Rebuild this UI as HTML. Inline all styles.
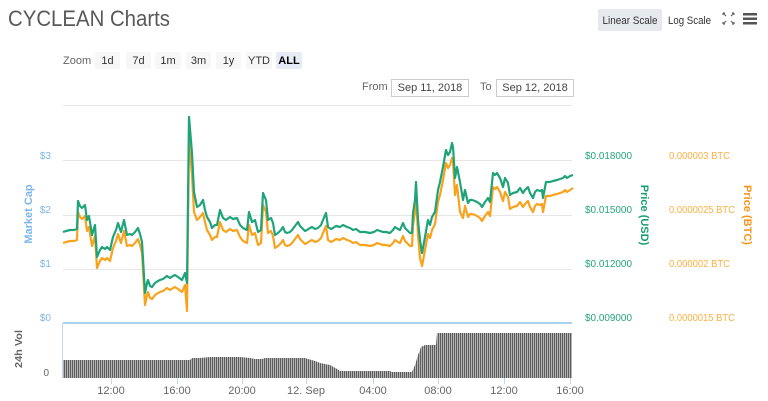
<!DOCTYPE html>
<html><head><meta charset="utf-8"><style>
html,body{margin:0;padding:0;background:#fff;}
svg{display:block;font-family:"Liberation Sans",sans-serif;}
</style></head><body>
<svg width="768" height="401" viewBox="0 0 768 401" xmlns="http://www.w3.org/2000/svg">
<defs>
<pattern id="vb" patternUnits="userSpaceOnUse" width="2" height="10">
<rect x="0" y="0" width="2" height="10" fill="#c9c9c9"/>
<rect x="0" y="0" width="1.2" height="10" fill="#5c5c5c"/>
</pattern>
</defs>
<rect width="768" height="401" fill="#fff"/>
<!-- title -->
<text x="8" y="26" font-size="22" fill="#595959" textLength="162" lengthAdjust="spacingAndGlyphs">CYCLEAN Charts</text>
<!-- top right -->
<rect x="598" y="9" width="64" height="22" rx="2" fill="#e6e9ee"/>
<text x="630" y="24" font-size="11" fill="#333" text-anchor="middle" textLength="55" lengthAdjust="spacingAndGlyphs">Linear Scale</text>
<text x="668" y="24" font-size="11" fill="#333" textLength="43" lengthAdjust="spacingAndGlyphs">Log Scale</text>
<g stroke="#666" stroke-width="1.2" fill="none">
<path d="M723 13 L726 16 M723 13 h2 M723 13 v2"/>
<path d="M734 13 L731 16 M734 13 h-2 M734 13 v2"/>
<path d="M723 24 L726 21 M723 24 h2 M723 24 v-2"/>
<path d="M734 24 L731 21 M734 24 h-2 M734 24 v-2"/>
</g>
<rect x="743" y="13" width="14" height="2.5" fill="#555"/>
<rect x="743" y="17.5" width="14" height="2.5" fill="#555"/>
<rect x="743" y="22" width="14" height="2.5" fill="#555"/>
<!-- zoom buttons -->
<text x="63" y="64" font-size="11" fill="#666">Zoom</text>
<g fill="#f7f7f7">
<rect x="95" y="52" width="25" height="17" rx="2"/>
<rect x="126" y="52" width="25" height="17" rx="2"/>
<rect x="155" y="52" width="26" height="17" rx="2"/>
<rect x="186" y="52" width="25" height="17" rx="2"/>
<rect x="216" y="52" width="25" height="17" rx="2"/>
<rect x="246" y="52" width="26" height="17" rx="2"/>
</g>
<rect x="276" y="52" width="26" height="17" rx="2" fill="#e6ebf5"/>
<g font-size="11" fill="#333" text-anchor="middle">
<text x="107.5" y="64">1d</text>
<text x="138.5" y="64">7d</text>
<text x="168" y="64">1m</text>
<text x="198.5" y="64">3m</text>
<text x="228.5" y="64">1y</text>
<text x="259" y="64">YTD</text>
<text x="289" y="64" font-weight="bold" fill="#000">ALL</text>
</g>
<!-- from/to -->
<text x="362" y="90" font-size="11" fill="#666">From</text>
<rect x="391.5" y="79.5" width="77" height="17" fill="#fff" stroke="#ccc"/>
<text x="430" y="91" font-size="11" fill="#444" text-anchor="middle">Sep 11, 2018</text>
<text x="480" y="90" font-size="11" fill="#666">To</text>
<rect x="496.5" y="79.5" width="77" height="17" fill="#fff" stroke="#ccc"/>
<text x="535" y="91" font-size="11" fill="#444" text-anchor="middle">Sep 12, 2018</text>
<!-- gridlines -->
<g stroke="#e6e6e6" stroke-width="1">
<line x1="63" y1="105.5" x2="572" y2="105.5"/>
<line x1="63" y1="160.5" x2="572" y2="160.5"/>
<line x1="63" y1="215.5" x2="572" y2="215.5"/>
<line x1="63" y1="269.5" x2="572" y2="269.5"/>
</g>
<line x1="63" y1="323" x2="572" y2="323" stroke="#8ec3ea" stroke-width="1.5"/>
<!-- left axis labels -->
<g font-size="10" fill="#7cb5ec" text-anchor="end">
<text x="51" y="159">$3</text>
<text x="51" y="213">$2</text>
<text x="51" y="267">$1</text>
<text x="51" y="321">$0</text>
</g>
<text transform="translate(32,214) rotate(-90)" font-size="11" font-weight="bold" fill="#7cb5ec" text-anchor="middle">Market Cap</text>
<!-- right axis labels -->
<g font-size="10" fill="#23a57c">
<text x="585" y="159" textLength="47" lengthAdjust="spacingAndGlyphs">$0.018000</text>
<text x="585" y="213" textLength="47" lengthAdjust="spacingAndGlyphs">$0.015000</text>
<text x="585" y="267" textLength="47" lengthAdjust="spacingAndGlyphs">$0.012000</text>
<text x="585" y="321" textLength="47" lengthAdjust="spacingAndGlyphs">$0.009000</text>
</g>
<g font-size="10" fill="#fbb040">
<text x="669" y="159" textLength="61" lengthAdjust="spacingAndGlyphs">0.000003 BTC</text>
<text x="669" y="213" textLength="66" lengthAdjust="spacingAndGlyphs">0.0000025 BTC</text>
<text x="669" y="267" textLength="61" lengthAdjust="spacingAndGlyphs">0.000002 BTC</text>
<text x="669" y="321" textLength="66" lengthAdjust="spacingAndGlyphs">0.0000015 BTC</text>
</g>
<text transform="translate(641,215) rotate(90)" font-size="11" font-weight="bold" fill="#169e72" text-anchor="middle">Price (USD)</text>
<text transform="translate(744,215) rotate(90)" font-size="11" font-weight="bold" fill="#f7931a" text-anchor="middle">Price (BTC)</text>
<!-- orange line -->
<polyline fill="none" stroke="#f9a21c" stroke-width="2.2" stroke-linejoin="round" points="63,243 66,242 70,241 74,241 77,240 78,212 80,217 82,219 85,216 87,231 89,227 92,246 95,236 97,268 100,261 102,258 105,260 107,258 110,261 113,248 116,241 118,234 121,243 124,231 127,246 130,245 132,246 135,243 138,239 140,245 142,253 145,305 147,295 148,292 150,298 152,299 155,295 158,293 160,292 163,291 167,288 170,290 173,288 175,287 178,289 182,292 185,285 187,311 189,138 192,175 194,212 197,220 200,217 203,213 205,222 207,230 210,235 212,240 215,237 217,237 220,222 223,230 226,232 230,229 233,231 237,230 240,237 243,241 247,243 249,225 252,235 255,233 258,245 261,243 263,205 266,212 268,233 271,231 273,236 275,248 278,246 281,243 283,240 285,245 287,246 290,245 292,243 295,239 298,235 300,239 302,241 305,244 307,243 310,241 312,240 315,242 318,241 321,238 323,233 326,226 328,240 331,242 333,241 336,239 340,240 343,238 347,240 350,241 353,243 356,242 360,245 365,245 370,246 374,245 377,243 380,244 383,245 386,245 390,246 393,243 395,240 398,242 400,243 403,236 405,241 407,243 410,246 412,246 413,226 415,212 416,193 418,235 420,258 422,266 425,250 428,234 430,238 432,230 435,224 438,202 440,195 442,185 443,180 446,163 448,168 450,165 452,158 453,162 455,195 457,185 460,212 463,218 465,206 468,217 470,214 472,214 475,215 477,216 480,218 482,221 485,216 488,212 490,216 493,187 495,189 497,187 500,192 503,201 505,192 508,197 510,209 513,207 517,206 520,202 523,207 525,204 528,201 530,207 533,212 535,206 537,204 540,205 542,204 543,212 546,196 550,196 553,195 557,194 560,193 563,192 565,190 567,192 570,190 573,188"/>
<!-- green line -->
<polyline fill="none" stroke="#1fa37a" stroke-width="2.2" stroke-linejoin="round" points="63,232 66,231 70,230 74,230 77,229 78,201 80,206 82,208 85,205 87,220 89,216 92,235 95,225 97,257 100,250 102,247 105,249 107,247 110,250 113,237 116,230 118,223 121,232 124,220 127,235 130,234 132,235 135,232 138,228 140,234 142,242 145,293 147,283 148,280 150,286 152,287 155,283 158,281 160,280 163,279 167,276 170,278 173,276 175,275 178,277 182,280 185,273 187,283 189,117 192,153 194,192 197,207 200,205 203,200 205,210 207,217 210,222 212,228 215,225 217,225 220,210 223,218 226,220 230,217 233,219 237,218 240,225 243,228 247,230 249,212 252,222 255,220 258,232 261,230 263,193 266,200 268,220 271,218 273,223 275,235 278,233 281,230 283,227 285,232 287,233 290,232 292,230 295,226 298,222 300,226 302,228 305,231 307,230 310,228 312,227 315,229 318,228 321,225 323,220 326,213 328,227 331,229 333,228 336,226 340,227 343,225 347,227 350,228 353,230 356,229 360,232 365,232 370,233 374,232 377,230 380,231 383,232 386,232 390,233 393,230 395,227 398,229 400,230 403,223 405,228 407,230 410,233 412,233 413,213 415,200 416,182 418,220 420,240 422,253 425,237 428,220 430,225 432,217 435,212 438,190 440,182 442,172 443,167 446,150 448,155 450,152 452,143 453,147 455,178 457,167 460,182 463,200 465,190 468,203 470,200 472,200 475,201 477,202 480,204 482,207 485,202 488,198 490,202 493,173 495,175 497,173 500,178 503,187 505,178 508,183 510,195 513,193 517,192 520,188 523,193 525,190 528,187 530,193 533,198 535,192 537,190 540,191 542,190 543,198 546,182 550,182 553,181 557,180 560,179 563,178 565,176 567,178 570,176 573,175"/>
<!-- volume panel -->
<line x1="62.5" y1="323" x2="62.5" y2="378" stroke="#ccd6eb" stroke-width="1"/>
<polygon fill="url(#vb)" points="63,360 190,360 192,358 200,358 210,357 240,357 250,358 255,359 262,359 265,358 305,358 308,359 315,361 320,363 330,365 337,369 340,371 390,371 392,372 412,372 415,365 418,355 421,347 425,345 436,345 437,333 572,333 572,378 63,378"/>
<text transform="translate(22,349) rotate(-90)" font-size="10" font-weight="bold" fill="#666" text-anchor="middle" textLength="38" lengthAdjust="spacingAndGlyphs">24h Vol</text>
<text x="49" y="376" font-size="10" fill="#666" text-anchor="end">0</text>
<!-- x ticks -->
<g stroke="#ccd6eb" stroke-width="1">
<line x1="111.5" y1="378" x2="111.5" y2="384"/>
<line x1="177.5" y1="378" x2="177.5" y2="384"/>
<line x1="242.5" y1="378" x2="242.5" y2="384"/>
<line x1="306.5" y1="378" x2="306.5" y2="384"/>
<line x1="373.5" y1="378" x2="373.5" y2="384"/>
<line x1="438.5" y1="378" x2="438.5" y2="384"/>
<line x1="504.5" y1="378" x2="504.5" y2="384"/>
<line x1="570.5" y1="378" x2="570.5" y2="384"/>
</g>
<g font-size="11" fill="#666" text-anchor="middle">
<text x="111" y="394">12:00</text>
<text x="177" y="394">16:00</text>
<text x="242" y="394">20:00</text>
<text x="306" y="394">12. Sep</text>
<text x="373" y="394">04:00</text>
<text x="438" y="394">08:00</text>
<text x="504" y="394">12:00</text>
<text x="570" y="394">16:00</text>
</g>
</svg>
</body></html>
